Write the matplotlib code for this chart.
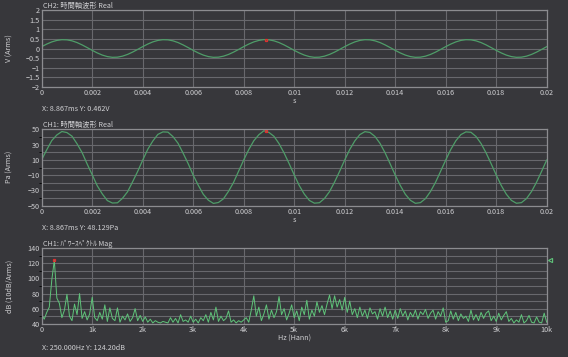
import matplotlib
matplotlib.use("Agg")
import matplotlib.pyplot as plt
import numpy as np

plt.rcParams['font.family'] = ['Noto Sans CJK JP', 'DejaVu Sans']

BG = '#37373b'
GRID = '#68686d'
SPINE = '#8c8c90'
TEXT = '#cfcfd2'
WAVE = '#4f9d69'
SPEC = '#5fc47a'

# time axis samples (s)
t_step = 0.0002
n_time = 101

# CH2 voltage waveform (V), one sample every 0.2 ms
ch2_volts = [
    0.096, 0.23, 0.342, 0.42, 0.458, 0.45, 0.398, 0.308, 0.187, 0.048,
    -0.096, -0.23, -0.342, -0.42, -0.458, -0.45, -0.398, -0.308, -0.187, -0.048,
    0.096, 0.23, 0.342, 0.42, 0.458, 0.45, 0.398, 0.308, 0.187, 0.048,
    -0.096, -0.23, -0.342, -0.42, -0.458, -0.45, -0.398, -0.308, -0.187, -0.048,
    0.096, 0.23, 0.342, 0.42, 0.462, 0.45, 0.398, 0.308, 0.187, 0.048,
    -0.096, -0.23, -0.342, -0.42, -0.458, -0.45, -0.398, -0.308, -0.187, -0.048,
    0.096, 0.23, 0.342, 0.42, 0.458, 0.45, 0.398, 0.308, 0.187, 0.048,
    -0.096, -0.23, -0.342, -0.42, -0.458, -0.45, -0.398, -0.308, -0.187, -0.048,
    0.096, 0.23, 0.342, 0.42, 0.458, 0.45, 0.398, 0.308, 0.187, 0.048,
    -0.096, -0.23, -0.342, -0.42, -0.458, -0.45, -0.398, -0.308, -0.187, -0.048,
    0.096,
]

# CH1 pressure waveform (Pa)
ch1_pa = [
    10.1, 23.2, 35.3, 42.6, 47.1, 45.7, 41.0, 31.0, 19.5, 4.6,
    -9.5, -23.9, -34.6, -43.3, -46.5, -46.2, -40.3, -31.8, -18.7, -5.2,
    9.6, 23.8, 34.6, 43.3, 46.6, 46.3, 40.4, 31.7, 18.8, 5.1,
    -10.1, -23.2, -35.1, -42.8, -47.0, -45.8, -40.9, -31.1, -19.4, -4.7,
    9.9, 23.4, 35.0, 42.9, 48.1, 45.9, 40.8, 31.2, 19.0, 5.0,
    -9.7, -23.6, -34.8, -43.1, -46.7, -46.1, -40.5, -31.5, -19.0, -4.9,
    9.8, 23.6, 34.8, 43.1, 46.9, 45.9, 40.6, 31.5, 19.2, 4.8,
    -9.9, -23.4, -35.0, -42.9, -46.9, -46.0, -40.7, -31.3, -19.2, -4.8,
    9.7, 23.5, 34.9, 43.0, 46.6, 46.1, 40.6, 31.4, 19.1, 4.9,
    -9.8, -23.5, -34.9, -43.0, -46.8, -46.0, -40.7, -31.4, -19.1, -4.9,
    9.8,
]

# CH1 power spectrum (dB), one bin every 50 Hz from 0 to 10 kHz
f_step = 50
spec_db = [
    52, 46, 55, 62, 98, 124.2, 74, 67, 48, 58, 79, 50, 44, 66, 52, 80, 47, 56, 45, 53,
    75, 48, 44, 55, 46, 65, 43, 61, 47, 44, 61, 42, 50, 45, 53, 43, 48, 60, 44, 51,
    43, 49, 42, 46, 41, 44, 42, 41, 43, 42, 41, 48, 42, 47, 41, 52, 43, 45, 42, 50,
    42, 46, 41, 48, 44, 52, 42, 55, 45, 62, 43, 50, 44, 47, 57, 42, 45, 41, 44, 42,
    45, 48, 42, 58, 77, 50, 62, 44, 53, 65, 46, 58, 48, 56, 76, 52, 60, 45, 54, 65,
    48, 57, 44, 62, 52, 71, 46, 58, 50, 69, 55, 64, 52, 66, 78, 60, 77, 62, 72, 58,
    75, 55, 70, 52, 60, 48, 62, 50, 58, 47, 61, 53, 56, 46, 60, 50, 62, 48, 57, 46,
    58, 47, 60, 50, 57, 45, 55, 49, 58, 46, 56, 52, 59, 47, 54, 58, 46, 56, 50, 61,
    42, 44, 57, 46, 55, 44, 53, 47, 50, 43, 58, 45, 52, 44, 55, 47, 54, 57, 44, 50,
    43, 54, 45, 51, 56, 43, 47, 41, 45, 42, 52, 41, 44, 51, 42, 41, 49, 42, 41, 54,
    42,
]

cursor_t = 0.008867
cursor_v = 0.462
cursor_pa = 48.129
cursor_f = 250.0
cursor_db = 124.20

t = np.arange(n_time) * t_step
freqs = np.arange(len(spec_db)) * f_step

fig = plt.figure(figsize=(5.68, 3.57), dpi=100, facecolor=BG)
W, H = 568, 357
FS = 5.2


def make_ax(top, bottom):
    ax = fig.add_axes([41.7 / W, 1 - bottom / H, 505 / W, (bottom - top) / H])
    ax.set_facecolor(BG)
    for s in ax.spines.values():
        s.set_color(SPINE)
        s.set_linewidth(0.9)
    ax.tick_params(colors=TEXT, labelsize=FS, length=0, pad=1.5)
    ax.grid(True, which='both', color=GRID, linewidth=0.8)
    ax.set_axisbelow(True)
    return ax


def fmt_time(v):
    return '0' if v == 0 else ('%g' % v)


time_ticks = np.round(np.arange(0, 0.0201, 0.002), 3)

# --- CH2 voltage ---
ax1 = make_ax(10, 87)
ax1.plot(t, ch2_volts, color=WAVE, lw=0.9)
ax1.plot([cursor_t], [cursor_v], 's', ms=2, mfc='none', mec='#e03030', mew=0.9)
ax1.set_xlim(0, 0.02)
ax1.set_ylim(-2, 2)
ax1.set_xticks(time_ticks)
ax1.set_xticklabels([fmt_time(v) for v in time_ticks])
ax1.set_yticks(np.arange(-2, 2.01, 0.5))
ax1.set_yticklabels(['\u22122', '\u22121.5', '\u22121', '\u22120.5', '0', '0.5', '1', '1.5', '2'])
ax1.text(0.003, 1.0, 'CH2: 時間軸波形 Real', transform=ax1.transAxes, color=TEXT,
         fontsize=FS, va='bottom', ha='left')

# --- CH1 pressure ---
ax2 = make_ax(129.3, 205.7)
ax2.plot(t, ch1_pa, color=WAVE, lw=0.9)
ax2.plot([cursor_t], [cursor_pa], 's', ms=2, mfc='none', mec='#e03030', mew=0.9)
ax2.set_xlim(0, 0.02)
ax2.set_ylim(-50, 50)
ax2.set_xticks(time_ticks)
ax2.set_xticklabels([fmt_time(v) for v in time_ticks])
ax2.set_yticks(np.arange(-50, 51, 10), minor=True)
ax2.set_yticks(np.arange(-50, 51, 20))
ax2.set_yticklabels(['\u221250', '\u221230', '\u221210', '10', '30', '50'])
ax2.text(0.003, 1.0, 'CH1: 時間軸波形 Real', transform=ax2.transAxes, color=TEXT,
         fontsize=FS, va='bottom', ha='left')

# --- CH1 spectrum ---
ax3 = make_ax(248.3, 323.7)
ax3.plot(freqs, spec_db, color=SPEC, lw=0.7)
ax3.plot([cursor_f], [cursor_db], 's', ms=2, mfc='none', mec='#e03030', mew=0.9)
ax3.plot([1.006], [cursor_db], marker='<', ms=3, mfc='none', mec=SPEC, mew=0.8,
         transform=ax3.get_yaxis_transform(), clip_on=False)
ax3.set_xlim(0, 10000)
ax3.set_ylim(40, 140)
ax3.set_xticks(np.arange(0, 10001, 1000))
ax3.set_xticklabels(['0'] + ['%dk' % k for k in range(1, 11)])
ax3.set_yticks(np.arange(40, 141, 10), minor=True)
ax3.set_yticks(np.arange(40, 141, 20))
ax3.text(0.003, 1.0, 'CH1: ﾊﾟﾜｰｽﾍﾟｸﾄﾙ Mag', transform=ax3.transAxes, color=TEXT,
         fontsize=FS, va='bottom', ha='left')

# axis labels
cx = (41.7 + 505 / 2) / W
fig.text(cx, 1 - 101 / H, 's', color=TEXT, fontsize=FS, ha='center', va='center')
fig.text(cx, 1 - 220 / H, 's', color=TEXT, fontsize=FS, ha='center', va='center')
fig.text(cx, 1 - 339 / H, 'Hz (Hann)', color=TEXT, fontsize=FS, ha='center', va='center')
fig.text(10 / W, 1 - 48 / H, 'V (Arms)', color=TEXT, fontsize=FS, rotation=90,
         ha='center', va='center')
fig.text(10 / W, 1 - 167 / H, 'Pa (Arms)', color=TEXT, fontsize=FS, rotation=90,
         ha='center', va='center')
fig.text(10 / W, 1 - 286 / H, 'dB (10dB/Arms)', color=TEXT, fontsize=FS, rotation=90,
         ha='center', va='center')

# cursor readouts
fig.text(42 / W, 1 - 109 / H, 'X: %.3fms Y: %.3fV' % (cursor_t * 1000, cursor_v),
         color=TEXT, fontsize=FS, va='center')
fig.text(42 / W, 1 - 228 / H, 'X: %.3fms Y: %.3fPa' % (cursor_t * 1000, cursor_pa),
         color=TEXT, fontsize=FS, va='center')
fig.text(42 / W, 1 - 348 / H, 'X: %.3fHz Y: %.2fdB' % (cursor_f, cursor_db),
         color=TEXT, fontsize=FS, va='center')

fig.savefig('out.png', dpi=100, facecolor=BG)
